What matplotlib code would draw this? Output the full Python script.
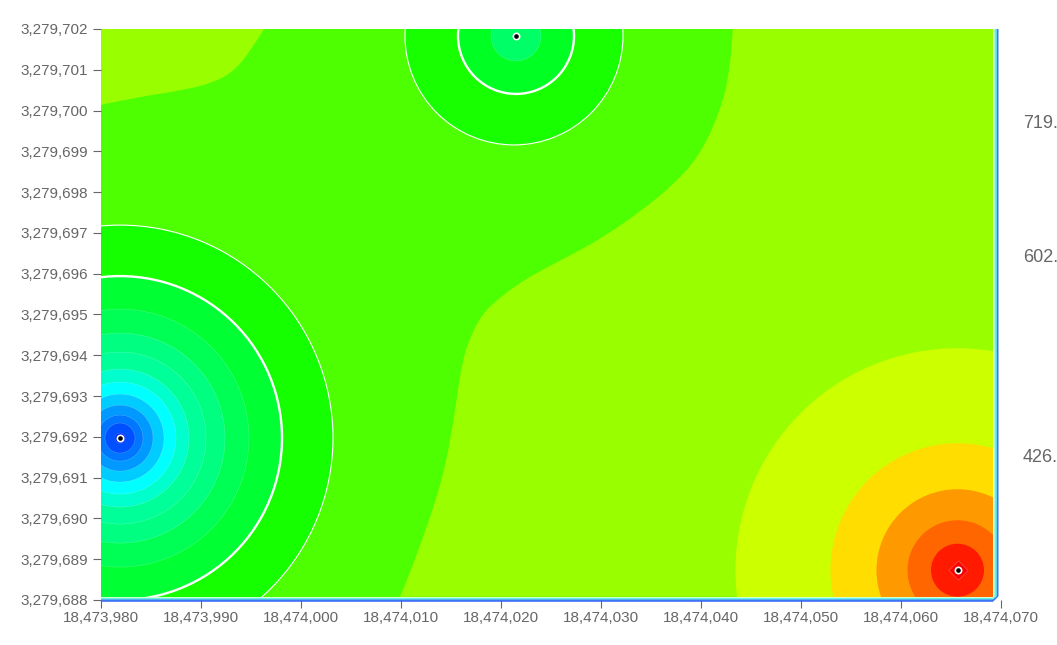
#!/usr/bin/env python3
import matplotlib
matplotlib.use("Agg")
import matplotlib.pyplot as plt
from matplotlib.patches import Ellipse, Rectangle, PathPatch
from matplotlib.path import Path
from matplotlib.ticker import FuncFormatter

plt.rcParams['font.family'] = ['Liberation Sans', 'DejaVu Sans']

# measured wells
well_x = [18473981.9, 18474021.5, 18474065.65]
well_y = [3279691.97, 3279701.83, 3279688.73]

# contour radii in x units, outermost first
left_radii = [21.3, 16.2, 12.9, 10.5, 8.6, 6.9, 5.6, 4.4, 3.3, 2.3, 1.5, 0.5]
left_colors = ['#15ff00', '#00ff33', '#00ff55', '#00ff80', '#00ff99', '#00ffcc',
               '#00ffff', '#00ccff', '#0099ff', '#0077ff', '#0050ff', '#0020ff']
left_widths = [0.8, 1.7, 0.3, 0.3, 0.3, 0.3, 0.3, 0.3, 0.3, 0.3, 0.3, 0.3]
left_shift = [0, 0, 0, 0, 0, 0, 0, 0, 0, 0, 0, 0]

top_radii = [10.9, 5.8, 2.5]
top_colors = ['#18ff00', '#00ff22', '#00ff66']
top_widths = [0.8, 1.7, 0.3]
top_shift = [-0.2, 0, 0]

right_radii = [22.2, 12.7, 8.1, 5.0, 2.65]
right_colors = ['#ccff00', '#ffdd00', '#ff9900', '#ff6600', '#ff1a00']
right_widths = [0, 0, 0, 0, 0]
right_shift = [0, 0, 0, 0, 0]

# green / lime boundary
lime_x = [18474043.17, 18474042.97, 18474041.9, 18474039.9, 18474037.2, 18474033.9,
          18474030.57, 18474027.2, 18474023.9, 18474021.4, 18474019.6, 18474018.2,
          18474016.9, 18474016.1, 18474015.6, 18474015.1, 18474014.4, 18474013.4,
          18474012.1, 18474010.9, 18474009.9]
lime_y = [3279702.0, 3279701.04, 3279699.97, 3279698.91, 3279698.17, 3279697.52,
          3279696.95, 3279696.48, 3279696.07, 3279695.7, 3279695.35, 3279695.04,
          3279694.45, 3279693.81, 3279692.98, 3279692.17, 3279691.26, 3279690.38,
          3279689.47, 3279688.66, 3279688.08]

corner_x = [18473996.3, 18473994.9, 18473993.2, 18473991.2, 18473988.2, 18473983.2, 18473980.0]
corner_y = [3279702.0, 3279701.44, 3279700.95, 3279700.68, 3279700.5, 3279700.31, 3279700.14]

x_ticks = list(range(18473980, 18474071, 10))
y_ticks = list(range(3279688, 3279703))
scale_labels = ['719.', '602.', '426.']
scale_pos = [123, 258, 458]

# units: 10 px per x unit, 40.79 px per y unit
y_per_x = 10 / 40.79
map_right = 18474069.2
map_bottom = 3279688.08


def smooth_region(xs, ys, extra_x, extra_y):
    # points are used as quadratic control points, the closing corners stay sharp
    verts = [(xs[0], ys[0])]
    codes = [Path.MOVETO]
    for i in range(1, len(xs) - 1):
        end = (xs[i + 1], ys[i + 1]) if i == len(xs) - 2 else ((xs[i] + xs[i + 1]) / 2, (ys[i] + ys[i + 1]) / 2)
        verts += [(xs[i], ys[i]), end]
        codes += [Path.CURVE3, Path.CURVE3]
    for a, b in zip(extra_x, extra_y):
        verts.append((a, b))
        codes.append(Path.LINETO)
    verts.append((xs[0], ys[0]))
    codes.append(Path.CLOSEPOLY)
    return Path(verts, codes)


fig = plt.figure(figsize=(10.57, 6.45), dpi=100)
ax = fig.add_axes([101 / 1057, 1 - 600 / 645, 900 / 1057, 571 / 645])
ax.set_xlim(18473980, 18474070)
ax.set_ylim(3279688, 3279702)
for s in ax.spines.values():
    s.set_visible(False)

# edge strips of the 3d box
for sx, sy, color in ((18474069.75, 3279687.955, '#3f74f5'),
                      (18474069.58, 3279688.012, '#66f0e6'),
                      (18474069.36, 3279688.05, '#d8ffd0')):
    ax.fill([18473980, map_right, sx, sx, 18473980],
            [sy, sy, 3279688.09, 3279702, 3279702],
            color=color, lw=0, clip_on=False, zorder=0.5)

clip = Rectangle((18473980, map_bottom), map_right - 18473980, 3279702 - map_bottom,
                 transform=ax.transData, fc='#4dff00', lw=0, zorder=0.6)
ax.add_patch(clip)

p = PathPatch(smooth_region(lime_x, lime_y, [map_right, map_right], [map_bottom, 3279702]),
              fc='#99ff00', lw=0, zorder=0.7)
ax.add_patch(p)
p.set_clip_path(clip)
p = PathPatch(smooth_region(corner_x, corner_y, [18473980], [3279702]),
              fc='#99ff00', lw=0, zorder=0.7)
ax.add_patch(p)
p.set_clip_path(clip)

for cx, cy, radii, colors, widths, shift in (
        (well_x[0], well_y[0], left_radii, left_colors, left_widths, left_shift),
        (well_x[1], well_y[1], top_radii, top_colors, top_widths, top_shift),
        (well_x[2], well_y[2], right_radii, right_colors, right_widths, right_shift)):
    for r, c, w, d in zip(radii, colors, widths, shift):
        e = Ellipse((cx + d, cy), 2 * r, 2 * r * y_per_x, fc=c, ec='none', zorder=0.8)
        ax.add_patch(e)
        e.set_clip_path(clip)
        if w:
            line = Ellipse((cx + d, cy), 2 * r, 2 * r * y_per_x, fc='none', ec='white', lw=w,
                           alpha=1.0 if w >= 0.8 else 0.35, zorder=0.9)
            ax.add_patch(line)
            line.set_clip_path(clip)

# innermost contour of the hot well
ax.scatter([well_x[2]], [well_y[2]], s=95, marker='D', c='#ff0000', edgecolors='#ff6060', linewidths=0.4, zorder=1)

ax.scatter(well_x, well_y, s=33, c='white', linewidths=0, zorder=3, clip_on=False)
ax.scatter(well_x, well_y, s=11, c='black', linewidths=0, zorder=4, clip_on=False)

ax.set_xticks(x_ticks)
ax.set_yticks(y_ticks)
fmt = FuncFormatter(lambda v, pos: f'{int(round(v)):,}')
ax.xaxis.set_major_formatter(fmt)
ax.yaxis.set_major_formatter(fmt)
ax.tick_params(axis='both', color='#666666', labelcolor='#666666', labelsize=11,
               length=6, width=0.8)
ax.tick_params(axis='x', pad=2)
ax.tick_params(axis='y', pad=3.5)

for lab, py in zip(scale_labels, scale_pos):
    fig.text(1023 / 1057, 1 - py / 645, lab, fontsize=13, color='#666666', va='center', ha='left')

fig.savefig('out.png', dpi=100)
